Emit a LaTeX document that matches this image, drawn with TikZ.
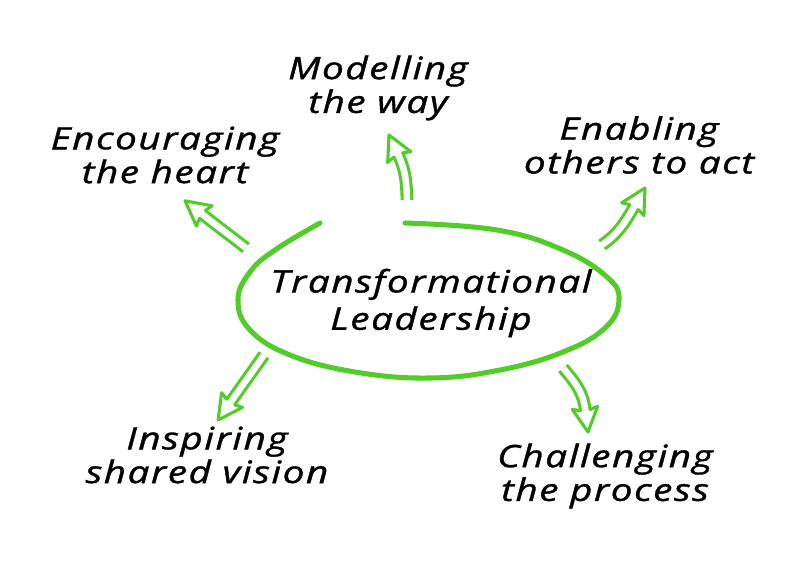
\documentclass[tikz,border=0pt]{standalone}
\usepackage{fontspec}
\setmainfont{Open Sans}[FakeStretch=1.25, LetterSpace=5, FakeBold=1.2]
\usetikzlibrary{calc}
\definecolor{leafgreen}{RGB}{82,204,40}

\tikzset{
  label text/.style={align=center, inner sep=0pt, font=\itshape\fontsize{22}{24}\selectfont},
  core text/.style={align=center, inner sep=0pt, font=\itshape\fontsize{22}{26.5}\selectfont},
  arrow shaft/.style={leafgreen, line width=2.2pt, double=white, double distance=4.6pt},
  arrow head/.style={leafgreen, line width=2.2pt, line join=round, line cap=round},
}

% hollow arrow: tail, out angle, head base, head angle
\newcommand{\hollowarrow}[4]{%
  \pgfmathsetmacro{\inangle}{#4+180}
  \draw[arrow shaft] (#1) to[out=#2, in=\inangle] (#3);
  \draw[arrow head, shift={(#3)}, rotate=#4]
    (0,0.12) -- (-0.06,0.32) -- (0.55,0) -- (-0.06,-0.32) -- (0,-0.12);
}

\begin{document}
\begin{tikzpicture}
  \fill[white] (0,0) rectangle (20,14.4);
  \useasboundingbox (0,0) rectangle (20,14.4);

  % centre
  \node[core text] (core) at (10.775,6.825) {Transformational\\Leadership};
  \draw[leafgreen, line width=3.6pt, line cap=round] plot[smooth, tension=0.7] coordinates {
    (10.125,8.825) (12.425,8.65) (14.075,8.15) (15.175,7.475) (15.475,6.9)
    (15.125,6.2) (14.075,5.6) (12.5,5.15) (10.75,4.95) (8.875,5.1)
    (7.25,5.525) (6.25,6.15) (5.95,6.9) (6.25,7.6) (6.875,8.15) (8.0,8.825)};

  % labels
  \node[label text] (model) at (9.45,12.2) {Modelling\\the way};
  \node[label text] (heart) at (4.125,10.525) {Encouraging\\the heart};
  \node[label text] (enable) at (15.975,10.775) {Enabling\\others to act};
  \node[label text] (inspire) at (5.175,3.025) {Inspiring\\shared vision};
  \node[label text] (challenge) at (15.125,2.5) {Challenging\\the process};

  % arrow ends
  \coordinate (model tail) at (10.175,9.4);
  \coordinate (model head) at (9.957,10.527);
  \coordinate (heart tail) at (6.15,8.2);
  \coordinate (heart head) at (5.06,9.04);
  \coordinate (enable tail) at (15.05,8.275);
  \coordinate (enable head) at (15.85,9.224);
  \coordinate (inspire tail) at (6.6,5.525);
  \coordinate (inspire head) at (5.768,4.349);
  \coordinate (challenge tail) at (14.075,5.2);
  \coordinate (challenge head) at (14.633,4.146);

  \hollowarrow{model tail}{92}{model head}{115}
  \hollowarrow{heart tail}{142}{heart head}{142}
  \hollowarrow{enable tail}{35}{enable head}{60}
  \hollowarrow{inspire tail}{235}{inspire head}{235}
  \hollowarrow{challenge tail}{-50}{challenge head}{-83}
\end{tikzpicture}
\end{document}
